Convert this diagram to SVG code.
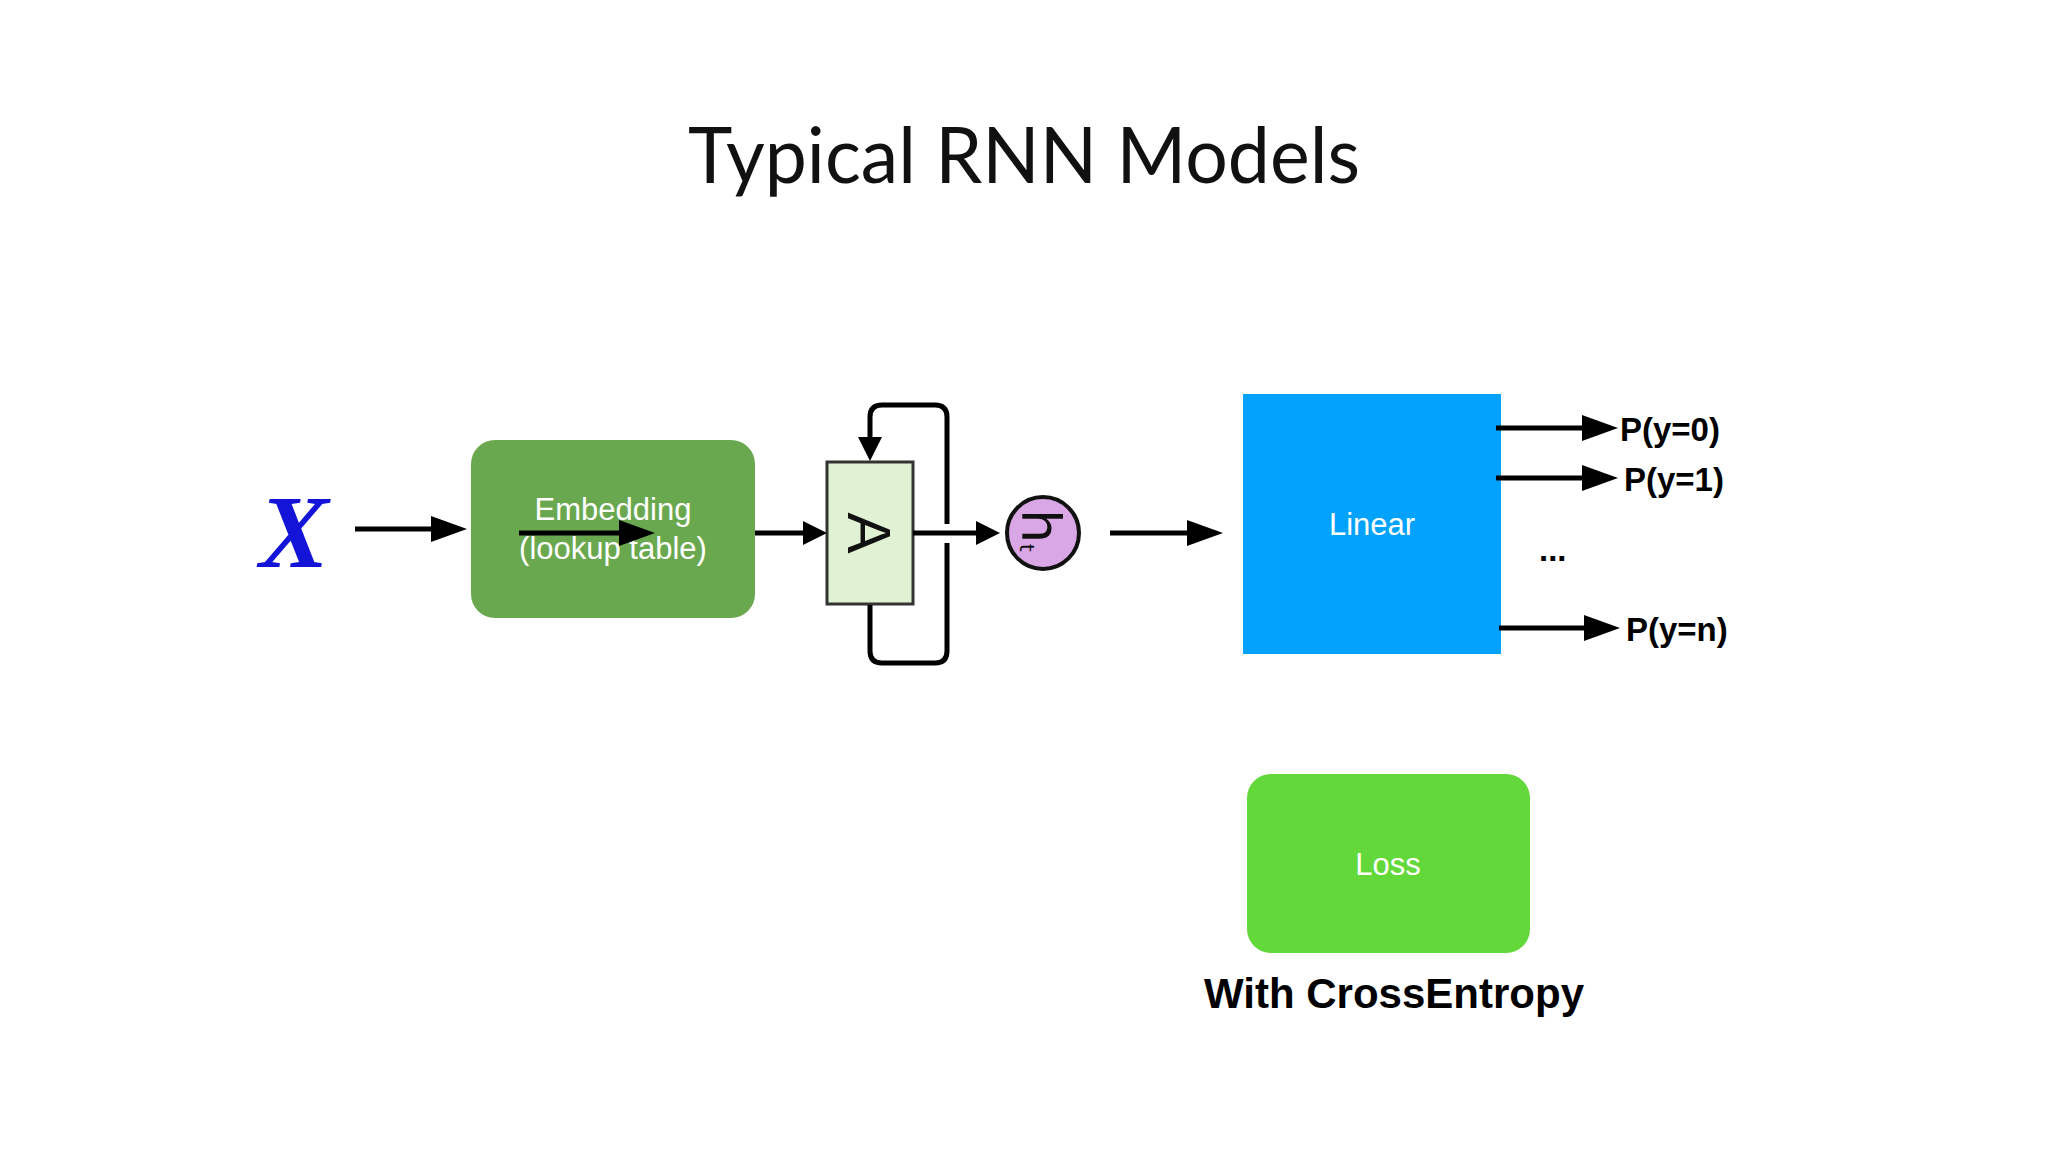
<svg xmlns="http://www.w3.org/2000/svg" width="2048" height="1152" viewBox="0 0 2048 1152">
  <defs>
    <marker id="big" markerUnits="userSpaceOnUse" markerWidth="36" markerHeight="26" refX="6" refY="13" orient="auto">
      <path d="M0,0 L36,13 L0,26 Z" fill="#000"/>
    </marker>
    <marker id="small" markerUnits="userSpaceOnUse" markerWidth="24" markerHeight="24" refX="4" refY="12" orient="auto">
      <path d="M0,0 L24,12 L0,24 Z" fill="#000"/>
    </marker>
    <style>
      .box-label { font-family: "Liberation Sans", Arial, sans-serif; font-size: 31px; fill: #ffffff; text-anchor: middle; }
      .out-label { font-family: "Liberation Sans", Arial, sans-serif; font-size: 33px; font-weight: bold; fill: #000; }
      .conn { stroke: #000; stroke-width: 5; fill: none; }
    </style>
  </defs>
  <rect x="0" y="0" width="2048" height="1152" fill="#ffffff"/>

  <text id="title" x="1024" y="183" font-family="Lato, 'Open Sans', sans-serif" font-size="77" fill="#111" text-anchor="middle" textLength="672" lengthAdjust="spacingAndGlyphs">Typical RNN Models</text>

  <g id="input-x">
    <text x="294" y="567" font-family="'Liberation Serif', 'Times New Roman', serif" font-style="italic" font-weight="bold" font-size="104" fill="#1414d8" text-anchor="middle">X</text>
  </g>

  <g id="embedding">
    <rect x="471" y="440" width="284" height="178" rx="24" ry="24" fill="#6aa84f"/>
    <text class="box-label" x="613" y="520">Embedding</text>
    <text class="box-label" x="613" y="559">(lookup table)</text>
  </g>

  <g id="rnn-cell">
    <rect x="827" y="462" width="86" height="142" fill="#e0f2d3" stroke="#333" stroke-width="3"/>
    <text transform="translate(870,533) rotate(90)" x="0" y="22" font-family="'Liberation Sans', Arial, sans-serif" font-size="62" fill="#111" text-anchor="middle">A</text>
  </g>

  <g id="hidden-state">
    <circle cx="1043" cy="533" r="36" fill="#daa7e6" stroke="#111" stroke-width="4"/>
    <g transform="translate(1043,533) rotate(90)">
      <text x="-24" y="21" font-family="'DejaVu Sans', sans-serif" font-size="54" fill="#111">h</text>
      <text x="11" y="23" font-family="'DejaVu Sans', sans-serif" font-size="20" fill="#111">t</text>
    </g>
  </g>

  <g id="linear">
    <rect x="1243" y="394" width="258" height="260" fill="#03a2fd"/>
    <text class="box-label" x="1372" y="535" font-size="30">Linear</text>
  </g>

  <g id="outputs">
    <text class="out-label" x="1620" y="441">P(y=0)</text>
    <text class="out-label" x="1624" y="491">P(y=1)</text>
    <text class="out-label" x="1539" y="561">...</text>
    <text class="out-label" x="1626" y="641">P(y=n)</text>
  </g>

  <g id="loss">
    <rect x="1247" y="774" width="283" height="179" rx="24" ry="24" fill="#63d83b"/>
    <text class="box-label" x="1388" y="875" font-size="30" fill="#f4fff0">Loss</text>
    <text x="1394" y="1008" font-family="'Liberation Sans', Arial, sans-serif" font-size="42" font-weight="bold" fill="#000" text-anchor="middle">With CrossEntropy</text>
  </g>

  <g id="connectors">
    <line class="conn" x1="355" y1="529" x2="437" y2="529" marker-end="url(#big)"/>
    <line class="conn" x1="519" y1="533" x2="625" y2="533" marker-end="url(#big)"/>
    <line class="conn" x1="755" y1="533" x2="807" y2="533" marker-end="url(#small)"/>
    <path class="conn" d="M870,605 L870,651 Q870,663 882,663 L935,663 Q947,663 947,651 L947,417 Q947,405 935,405 L882,405 Q870,405 870,417 L870,441" marker-end="url(#small)"/>
    <line x1="947" y1="524" x2="947" y2="543" stroke="#ffffff" stroke-width="9"/>
    <line class="conn" x1="913" y1="533" x2="980" y2="533" stroke-width="4.5" marker-end="url(#small)"/>
    <line class="conn" x1="1110" y1="533" x2="1193" y2="533" marker-end="url(#big)"/>
    <line class="conn" x1="1496" y1="428" x2="1588" y2="428" marker-end="url(#big)"/>
    <line class="conn" x1="1496" y1="478" x2="1588" y2="478" marker-end="url(#big)"/>
    <line class="conn" x1="1499" y1="628" x2="1590" y2="628" marker-end="url(#big)"/>
  </g>
</svg>
